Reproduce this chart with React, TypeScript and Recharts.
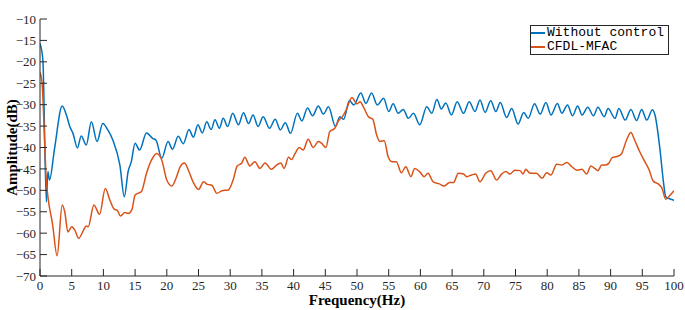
import React from "react";
import { Label, Legend, Line, LineChart, XAxis, YAxis } from "recharts";

// axis ticks
const freqTicks = [0, 5, 10, 15, 20, 25, 30, 35, 40, 45, 50, 55, 60, 65, 70, 75, 80, 85, 90, 95, 100];
const ampTicks = [-70, -65, -60, -55, -50, -45, -40, -35, -30, -25, -20, -15, -10];
const seriesNames = ["Without control", "CFDL-MFAC"];

// "Without control" spectrum, read peak by peak off the figure
const withoutHz = [
  0, 0.45, 1.0, 1.25, 1.5, 2.3, 3.5, 4.2, 4.7, 5.2, 5.9, 6.5, 7.3, 8.1, 9.0, 9.9, 10.7, 11.5, 12.6, 13.3,
  13.9, 14.4, 15.0, 15.7, 16.8, 17.8, 18.3, 19.2, 20.2, 20.9, 21.8, 22.6, 23.5, 24.2, 24.9, 25.6, 26.3, 27.0,
  27.6, 28.3, 28.9, 29.6, 30.4, 31.3, 32.1, 32.9, 33.6, 34.4, 35.2, 36.2, 37.1, 37.9, 38.7, 39.5, 40.6, 41.3,
  42.2, 43.0, 43.9, 44.7, 45.5, 46.6, 47.3, 47.9, 48.8, 49.5, 50.6, 51.4, 52.3, 53.2, 54.2, 55.0, 55.7, 56.5,
  57.3, 58.1, 58.9, 59.9, 61.0, 61.8, 62.6, 63.3, 64.0, 64.9, 65.8, 66.8, 67.7, 68.6, 69.4, 70.2, 71.1, 71.9,
  72.6, 73.6, 74.4, 75.4, 76.3, 77.0, 78.0, 78.9, 79.8, 80.6, 81.6, 82.3, 83.2, 84.0, 84.8, 85.5, 86.4, 87.3,
  88.0, 89.0, 89.6, 90.7, 91.3, 92.3, 93.2, 94.1, 94.9, 95.7, 96.6, 97.0, 97.8, 98.3, 98.7, 99.2, 100,
];
const withoutDb = [
  -15.7, -19.5, -52.7, -45.6, -47.6, -40.2, -30.3, -32.6, -35.1, -36.7, -40.1, -37.3, -39.4, -34, -38.6, -34.4,
  -35.9, -38.3, -44.1, -51.5, -45.6, -43.3, -39, -40.6, -36.6, -37.9, -38.3, -42.5, -38.6, -40.4, -37.4, -39.1,
  -35.8, -37.6, -34.7, -36.6, -34, -35.8, -33.5, -35.5, -33.2, -35.1, -32, -34.7, -31.9, -34.4, -32.4, -35.1,
  -32.8, -35.5, -33.4, -35.9, -34.2, -36.7, -32, -33.8, -30.8, -32.6, -30.3, -32.2, -30.5, -35.1, -32.8, -33.4,
  -29, -30.1, -27.3, -29.7, -27.3, -30.1, -28.5, -31.6, -29.8, -32, -31.1, -33.2, -32, -34.7, -30.5, -32,
  -28.8, -31, -29.6, -32.4, -29.3, -32, -29.3, -31.6, -28.9, -31.8, -29.1, -31.6, -29.5, -33, -30.9, -34.5,
  -31.8, -33.2, -29.8, -32.2, -29.5, -32.4, -29.7, -32, -30.1, -32.6, -30.3, -32.4, -30.6, -32.6, -30.6, -32.8,
  -30.9, -33.2, -30.9, -33.6, -31.1, -33.7, -31.1, -33.6, -31.2, -32.4, -40.6, -47.6, -51.5, -51.9, -52.3,
];

// "CFDL-MFAC" spectrum
const mfacHz = [
  0, 0.3, 1.0, 2.0, 2.7, 3.5, 3.9, 4.4, 5.0, 5.5, 6.1, 6.8, 7.3, 7.6, 8.5, 9.4, 10.3, 11.0, 11.7, 12.2, 12.7,
  13.4, 13.9, 14.5, 15.0, 15.6, 16.0, 16.8, 17.6, 18.4, 19.2, 20.0, 20.8, 21.5, 22.1, 22.8, 23.4, 24.2, 25.0,
  25.8, 26.4, 27.1, 27.9, 28.7, 29.7, 30.5, 31.1, 31.8, 32.3, 33.1, 33.9, 34.7, 35.5, 36.5, 37.3, 38.0, 38.5,
  39.2, 39.7, 40.2, 40.9, 41.5, 42.3, 43.1, 43.9, 44.4, 45.1, 45.7, 46.5, 47.1, 47.7, 48.3, 49.2, 50.0, 50.5,
  51.0, 51.8, 52.5, 53.1, 53.6, 54.3, 54.9, 55.5, 56.2, 57.0, 57.7, 58.5, 59.1, 59.9, 60.6, 61.2, 62.0, 63.0,
  63.7, 64.6, 65.2, 66.0, 66.8, 67.3, 68.1, 68.7, 69.4, 70.3, 71.1, 72.0, 72.8, 73.5, 74.1, 74.9, 75.7, 76.2,
  76.6, 77.3, 78.3, 79.2, 79.9, 80.6, 81.5, 82.3, 83.1, 83.9, 84.7, 85.5, 86.2, 86.9, 87.5, 88.0, 88.6, 89.2,
  89.7, 90.3, 91.0, 91.7, 92.5, 93.2, 93.8, 94.6, 95.4, 96.1, 96.7, 97.5, 98.1, 98.7, 99.4, 100,
];
const mfacDb = [
  -22.5, -24.6, -47.6, -58.1, -65.3, -53.4, -55, -59.7, -58.5, -59.3, -61.2, -59.5, -58.3, -58.5, -53.4, -55.6,
  -49.6, -52.2, -54.4, -54.7, -56, -55.2, -55.4, -54.5, -51.1, -50.6, -50.3, -46, -42.9, -41.4, -42.9, -47.6,
  -49, -47, -44.5, -43.6, -45.3, -48.2, -49.8, -48, -48.6, -48.8, -50.7, -50.1, -49.9, -47.4, -44.3, -43.7,
  -42.3, -44.3, -43.3, -44.9, -43.6, -45.1, -44.1, -43.6, -44.9, -42.3, -42.8, -41.5, -40, -40.6, -38.1, -40,
  -38.6, -39, -40, -36.3, -35.5, -33.7, -32.8, -31.2, -28.3, -29.8, -29.3, -30.5, -32.8, -33.4, -37.1, -38.6,
  -38.4, -42.1, -43.3, -43.3, -45.9, -44.5, -46.8, -44.9, -45.7, -46.8, -46, -48, -48.5, -49, -48.2, -48.2,
  -46, -46.2, -46.8, -46.4, -46.2, -48, -46, -45.4, -47.6, -46.2, -45.6, -46.2, -45.3, -45.4, -46.2, -45.1,
  -46, -46, -47.2, -45.9, -46.4, -43.9, -44.1, -43.5, -44.5, -45.3, -45.1, -46.2, -44.3, -44.9, -45.4, -44.1,
  -44.1, -43.7, -42.3, -42.1, -41.5, -38.3, -36.5, -38.3, -41, -43.3, -45.3, -47.8, -48.5, -49.5, -52.1, -51.1,
  -50.1,
];

const withoutRows = withoutHz.map((f, i) => ({ f, a: withoutDb[i] }));
const mfacRows = mfacHz.map((f, i) => ({ f, a: mfacDb[i] }));

const AXIS = "#262626";
const SERIF = "Liberation Serif, Times New Roman, Times, serif";
const minus = (v: number) => String(v).replace("-", "\u2212");

const tickStyle = { fontSize: 13, fill: AXIS, fontFamily: SERIF, style: { fontFamily: SERIF } };

function renderLegend(props: any) {
  const items = [...(props.payload || [])].sort(
    (a: any, b: any) => seriesNames.indexOf(a.value) - seriesNames.indexOf(b.value)
  );
  return (
    <div
      style={{
        border: `1px solid ${AXIS}`,
        background: "#fff",
        fontFamily: "Liberation Mono, Courier New, monospace",
        fontSize: 13,
        lineHeight: "14px",
        color: "#000",
        boxSizing: "border-box",
        width: 139,
        height: 30,
      }}
    >
      {items.map((it: any) => (
        <div key={it.value} style={{ display: "flex", alignItems: "center", height: 14 }}>
          <span style={{ display: "inline-block", width: 14, height: 1.5, background: it.color, marginRight: 2 }} />
          <span>{it.value}</span>
        </div>
      ))}
    </div>
  );
}

export default function App() {
  return (
    <div
      style={{
        position: "absolute",
        left: 0,
        top: 0,
        width: 685,
        height: 310,
        background: "#fff",
        fontFamily: SERIF,
      }}
    >
      <LineChart width={685} height={310} margin={{ top: 19, right: 11, bottom: 0, left: 0 }}>
        <XAxis
          xAxisId="bottom"
          dataKey="f"
          type="number"
          domain={[0, 100]}
          ticks={freqTicks}
          allowDataOverflow
          height={34}
          stroke={AXIS}
          tickSize={-7}
          tickMargin={12}
          tick={tickStyle}
          interval={0}
        >
          <Label
            content={(p: any) => (
              <text
                x={p.viewBox.x + p.viewBox.width / 2}
                y={305}
                textAnchor="middle"
                style={{ fontFamily: SERIF }}
                fontWeight="bold"
                fontSize={15}
                fill="#000"
              >
                Frequency(Hz)
              </text>
            )}
          />
        </XAxis>
        <XAxis
          xAxisId="top"
          orientation="top"
          dataKey="f"
          type="number"
          domain={[0, 100]}
          ticks={freqTicks}
          allowDataOverflow
          height={0}
          stroke={AXIS}
          tickSize={-7}
          tick={false}
          interval={0}
        >
          <Label
            content={(p: any) => (
              <text
                x={p.viewBox.x + p.viewBox.width / 2}
                y={14}
                textAnchor="middle"
                style={{ fontFamily: SERIF }}
                fontWeight="bold"
                fontSize={15}
                fill="#000"
              >
                Frequency domain image
              </text>
            )}
          />
        </XAxis>
        <YAxis
          yAxisId="left"
          type="number"
          domain={[-70, -10]}
          ticks={ampTicks}
          allowDataOverflow
          width={40}
          stroke={AXIS}
          tickSize={-7}
          tickMargin={11}
          tick={tickStyle}
          tickFormatter={minus}
          interval={0}
        >
          <Label
            content={(p: any) => {
              const cy = p.viewBox.y + p.viewBox.height / 2;
              return (
                <text
                  x={12}
                  y={cy}
                  transform={`rotate(-90 12 ${cy})`}
                  textAnchor="middle"
                  dominantBaseline="central"
                  style={{ fontFamily: SERIF }}
                  fontWeight="bold"
                  fontSize={15}
                  fill="#000"
                >
                  Amplitude(dB)
                </text>
              );
            }}
          />
        </YAxis>
        <YAxis
          yAxisId="right"
          orientation="right"
          type="number"
          domain={[-70, -10]}
          ticks={ampTicks}
          allowDataOverflow
          width={0}
          stroke={AXIS}
          tickSize={-7}
          tick={false}
          interval={0}
        />
        <Legend
          layout="vertical"
          align="center"
          verticalAlign="middle"
          content={renderLegend}
          wrapperStyle={{ left: 530, top: 25, width: 139, height: 30 }}
        />
        <Line
          xAxisId="bottom"
          yAxisId="left"
          data={withoutRows}
          dataKey="a"
          name="Without control"
          type="monotone"
          stroke="#0072BD"
          strokeWidth={1.5}
          dot={false}
          activeDot={false}
          isAnimationActive={false}
        />
        <Line
          xAxisId="bottom"
          yAxisId="left"
          data={mfacRows}
          dataKey="a"
          name="CFDL-MFAC"
          type="monotone"
          stroke="#D95319"
          strokeWidth={1.5}
          dot={false}
          activeDot={false}
          isAnimationActive={false}
        />
      </LineChart>
    </div>
  );
}
